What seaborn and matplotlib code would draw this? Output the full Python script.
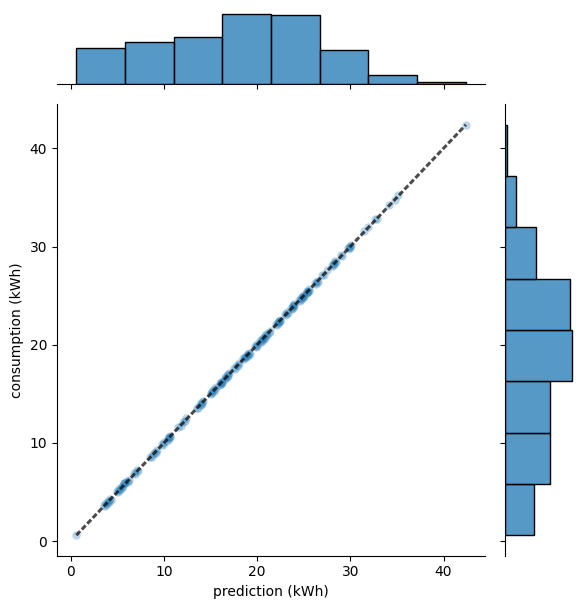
import matplotlib
matplotlib.use("Agg")
import matplotlib.pyplot as plt
import seaborn as sns
import pandas as pd

prediction = [
    0.6, 3.6, 3.7, 3.8, 3.9, 4.0, 4.1, 4.2, 4.3,
    5.0, 5.1, 5.2, 5.3, 5.4, 5.5, 5.6, 5.7, 5.75, 5.8,
    6.0, 6.1, 6.3, 6.8, 6.9, 7.1, 7.2, 8.5, 8.7, 8.8, 9.0, 9.1, 9.2,
    9.8, 9.9, 10.0, 10.3, 10.4, 10.5, 10.5, 10.6, 10.7,
    11.5, 11.8, 12.0, 12.3, 12.4, 13.5, 13.7, 13.9, 14.0, 14.1, 14.1, 14.2,
    15.0, 15.1, 15.2, 15.3, 15.4, 15.5, 15.6, 16.0, 16.0, 16.1, 16.1, 16.2, 16.2,
    16.5, 16.6, 16.7, 16.8, 16.9, 16.9, 17.0, 17.5, 17.6, 17.8, 17.9, 18.0,
    18.5, 18.6, 18.7, 18.8, 18.9, 19.0, 19.0, 19.1, 19.2,
    19.8, 19.9, 20.0, 20.0, 20.3, 20.4, 20.5, 20.5, 20.6, 20.7, 20.8, 20.8,
    21.0, 21.1, 21.3, 21.4,
    22.0, 22.1, 22.2, 22.3, 22.3, 22.4, 22.5, 23.0, 23.1, 23.2, 23.3,
    23.6, 23.7, 23.8, 23.8, 23.9, 24.0, 24.0,
    24.5, 24.6, 24.7, 24.8, 24.8, 24.9, 25.0, 25.0,
    25.3, 25.4, 25.4, 25.5, 25.6, 25.6, 26.2, 26.3, 26.4, 26.5,
    27.0, 27.2, 27.5, 28.0, 28.1, 28.2, 28.3, 28.4, 28.5, 29.0, 29.1,
    29.8, 29.9, 30.0, 30.0, 30.1, 31.5, 31.9,
    32.7, 32.9, 34.1, 34.8, 35.1,
    42.4,
]
consumption = [
    0.6, 3.7, 3.6, 3.9, 3.8, 4.1, 4.0, 4.3, 4.2,
    5.1, 5.0, 5.3, 5.2, 5.5, 5.4, 5.6, 5.9, 5.95, 5.9,
    6.1, 6.0, 6.2, 6.9, 6.8, 7.2, 7.1, 8.6, 8.6, 8.9, 9.1, 9.0, 9.3,
    9.9, 9.8, 10.1, 10.2, 10.5, 10.4, 10.6, 10.7, 10.6,
    11.6, 11.7, 12.1, 12.2, 12.5, 13.6, 13.6, 14.0, 13.9, 14.2, 14.0, 14.3,
    15.1, 15.0, 15.3, 15.2, 15.5, 15.4, 15.7, 15.9, 16.1, 16.0, 16.2, 16.1, 16.2,
    16.6, 16.5, 16.8, 16.7, 17.0, 16.8, 17.1, 17.6, 17.5, 17.9, 17.8, 18.1,
    18.6, 18.5, 18.8, 18.7, 19.0, 18.9, 19.1, 19.2, 19.1,
    19.9, 19.8, 20.1, 19.9, 20.4, 20.3, 20.6, 20.4, 20.7, 20.6, 20.9, 20.7,
    21.1, 21.0, 21.2, 21.4,
    22.1, 22.0, 22.3, 22.2, 22.4, 22.5, 22.4, 23.1, 23.0, 23.3, 23.2,
    23.7, 23.6, 23.9, 23.7, 24.0, 23.9, 24.1,
    24.6, 24.5, 24.8, 24.7, 24.9, 25.0, 24.9, 25.1,
    25.4, 25.3, 25.5, 25.4, 25.7, 25.5, 26.3, 26.2, 26.5, 26.4,
    27.1, 27.1, 27.6, 28.1, 28.0, 28.3, 28.2, 28.5, 28.4, 29.1, 29.0,
    29.9, 29.8, 30.1, 29.9, 30.2, 31.6, 32.0,
    32.8, 32.8, 34.2, 34.7, 35.2,
    42.4,
]

df = pd.DataFrame({"prediction (kWh)": prediction,
                   "consumption (kWh)": consumption})

g = sns.jointplot(data=df, x="prediction (kWh)", y="consumption (kWh)",
                  height=6, joint_kws={"alpha": 0.3, "linewidth": 0},
                  marginal_kws={"bins": 8})
lo, hi = min(prediction), max(prediction)
g.ax_joint.plot([lo, hi], [lo, hi], color="k", ls="--", lw=2.2, alpha=0.7,
                dashes=(1.8, 0.8))
g.figure.set_size_inches(5.95, 6.19)
g.figure.tight_layout()
g.figure.savefig("out.png", dpi=100, bbox_inches="tight")
